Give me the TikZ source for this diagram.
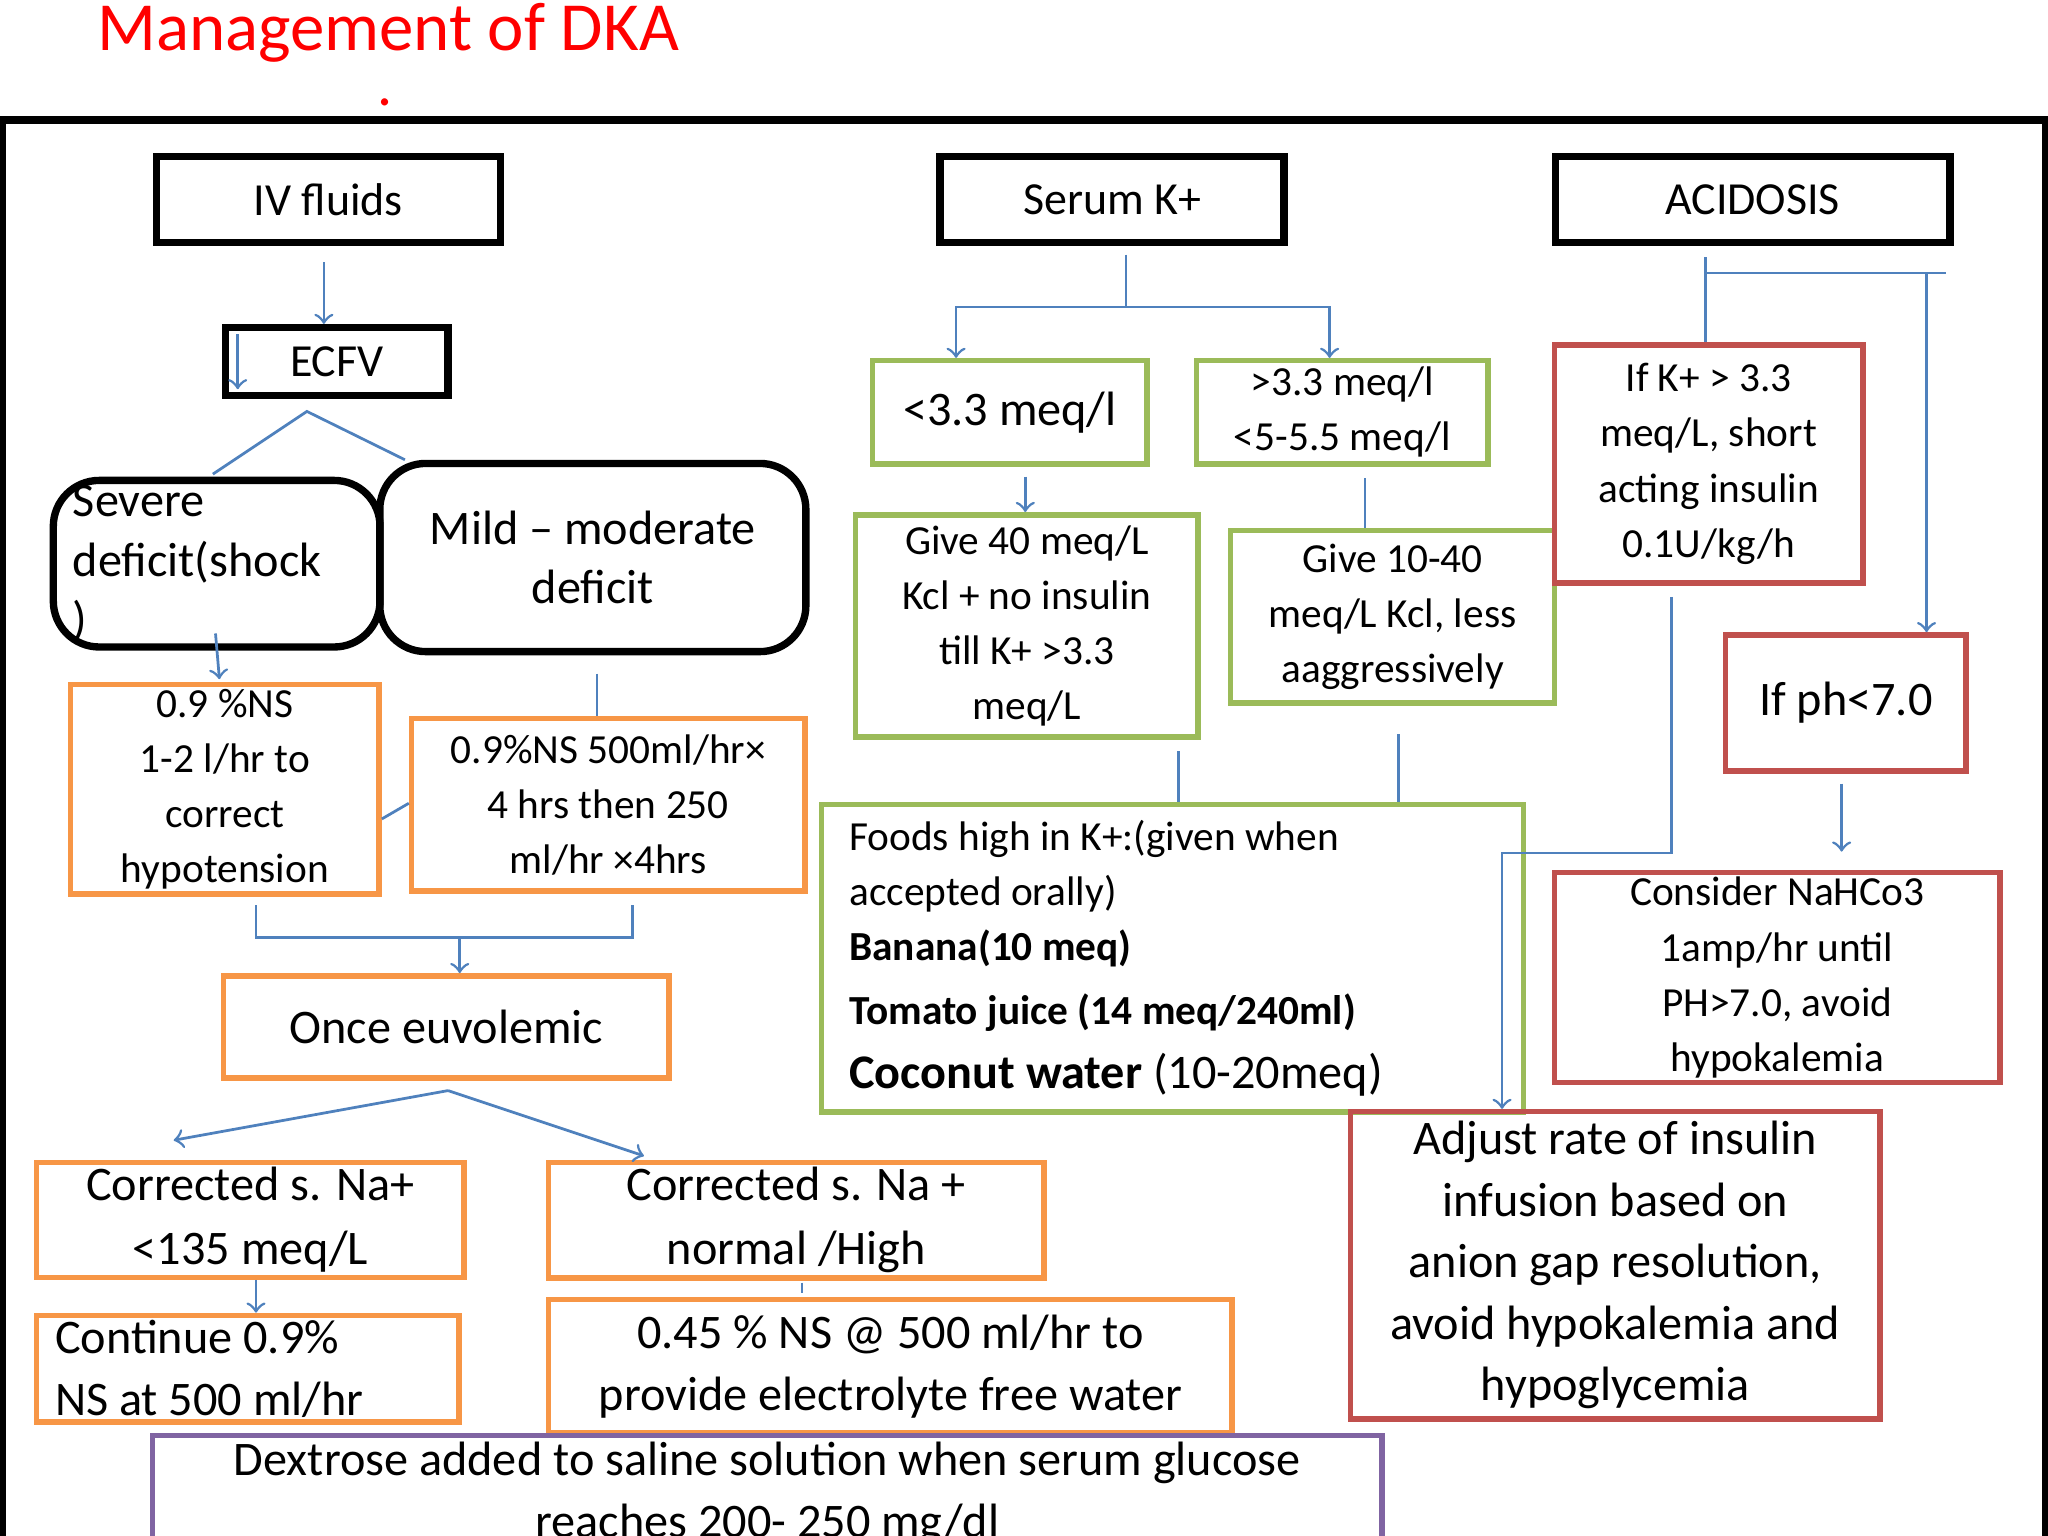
\documentclass[tikz,border=0pt]{standalone}
\usepackage{fontspec}
\setmainfont{Carlito}
\usetikzlibrary{positioning,calc}
\definecolor{dkaorange}{HTML}{F79646}
\definecolor{dkagreen}{HTML}{9BBB59}
\definecolor{dkared}{HTML}{C0504D}
\definecolor{dkapurple}{HTML}{8064A2}
\definecolor{dkablue}{HTML}{4F81BD}
\begin{document}
\begin{tikzpicture}[x=0.01cm,y=-0.01cm,
  box/.style={draw,line width=1.2pt,anchor=north west,inner sep=1pt,align=center,font=\fontsize{9}{12}\selectfont},
  hbox/.style={box,draw=black,line width=1.6pt,font=\fontsize{10}{12}\selectfont},
  rbox/.style={box,draw=black,line width=1.6pt,rounded corners=10pt,font=\fontsize{10.5}{13}\selectfont},
  obox/.style={box,draw=dkaorange},
  gbox/.style={box,draw=dkagreen},
  redbox/.style={box,draw=dkared},
  link/.style={draw=dkablue,line width=0.6pt},
  arr/.style={link,->}]
  \useasboundingbox (0,0) rectangle (1568,1176);
  %%%%% FRAME %%%%%
  \node[text=red,anchor=west,font=\fontsize{15}{17}\selectfont] (title) at (62,25) {Management of DKA};
  \node[text=red,font=\fontsize{13}{14}\selectfont] (dot) at (295,78) {.};
  \draw[line width=1.6pt] (2,1180) -- (2,92) -- (1566,92) -- (1566,1180);
  %%%%% IV FLUIDS %%%%%
  \node[hbox,minimum width=2.63cm,minimum height=0.66cm] (iv) at (117,117) {IV fluids};
  \node[hbox,minimum width=1.7cm,minimum height=0.52cm] (ecfv) at (170,248) {ECFV};
  \draw[arr] (iv.south -| 248,0) ++(0,12) -- (ecfv.north -| 248,0);
  \draw[arr] (182,256) -- (182,298);
  \node[rbox,align=flush left,text width=2.2cm,minimum width=2.5cm,minimum height=1.18cm] (severe) at (38,365) {Severe\\deficit(shock\\)};
  \node[rbox,minimum width=3.26cm,minimum height=1.44cm] (mild) at (288,352) {Mild – moderate\\deficit};
  \coordinate (split) at (235,315);
  \draw[link] (163,363) -- (split) -- (310,352);
  \node[obox,minimum width=2.36cm,minimum height=1.58cm] (nsfast) at (52,522) {0.9 \%NS\\1-2 l/hr to\\correct\\hypotension};
  \node[obox,minimum width=3.01cm,minimum height=1.32cm] (nsslow) at (313,548) {0.9\%NS 500ml/hr×\\4 hrs then 250\\ml/hr ×4hrs};
  \draw[arr] (165,485) -- (168,520);
  \draw[link] (mild.south -| 457,0) ++(0,14) -- (nsslow.north -| 457,0);
  \draw[link] (nsfast.east |- 0,627) -- (313,615);
  \node[obox,minimum width=3.41cm,minimum height=0.78cm,font=\fontsize{10.5}{12}\selectfont] (euvol) at (169,745) {Once euvolemic};
  \draw[link] (196,693) -- (196,718) -- (484,718) -- (484,693);
  \draw[arr] (352,718) -- (euvol.north -| 352,0);
  \node[obox,minimum width=3.27cm,minimum height=0.79cm,font=\fontsize{10.5}{14}\selectfont] (nalow) at (26,888) {Corrected s. Na+\\<135 meq/L};
  \node[obox,minimum width=3.79cm,minimum height=0.79cm,font=\fontsize{10.5}{14}\selectfont] (nahigh) at (418,888) {Corrected s. Na +\\normal /High};
  \coordinate (fork) at (343,835);
  \draw[arr] (fork) -- (133,873);
  \draw[arr] (fork) -- (493,885);
  \node[obox,align=flush left,text width=2.95cm,inner xsep=4pt,minimum width=3.14cm,minimum height=0.8cm,font=\fontsize{10.5}{13.5}\selectfont] (contns) at (26,1005) {Continue 0.9\%\\NS at 500 ml/hr};
  \node[obox,minimum width=5.23cm,minimum height=1.02cm,font=\fontsize{10.5}{13.5}\selectfont] (halfns) at (418,993) {0.45 \% NS @ 500 ml/hr to\\provide electrolyte free water};
  \draw[arr] (196,980) -- (contns.north -| 196,0);
  \draw[link] (614,982) -- (614,990);
  \node[box,draw=dkapurple,anchor=north,minimum width=9.41cm,minimum height=0.9cm,font=\fontsize{10.5}{13.5}\selectfont] (dextrose) at (587.5,1097) {Dextrose added to saline solution when serum glucose\\reaches 200- 250 mg/dl};
  %%%%% SERUM K %%%%%
  \node[hbox,minimum width=2.63cm,minimum height=0.66cm] (serumk) at (717,117) {Serum K+};
  \node[gbox,minimum width=2.1cm,minimum height=0.79cm,font=\fontsize{10.5}{12}\selectfont] (klow) at (666,274) {<3.3 meq/l};
  \node[gbox,minimum width=2.23cm,minimum height=0.79cm] (kmid) at (914,274) {>3.3 meq/l\\<5-5.5 meq/l};
  \draw[link] (862,195) -- (862,235);
  \draw[arr] (862,235) -| (klow.north -| 732,0);
  \draw[arr] (862,235) -| (kmid.north -| 1018,0);
  \node[gbox,minimum width=2.62cm,minimum height=1.7cm] (give40) at (653,392) {Give 40 meq/L\\Kcl + no insulin\\till K+ >3.3\\meq/L};
  \node[gbox,minimum width=2.48cm,minimum height=1.32cm] (give10) at (940,404) {Give 10-40\\meq/L Kcl, less\\aaggressively};
  \draw[arr] (785,365) -- (give40.north -| 785,0);
  \draw[link] (1045,366) -- (give10.north -| 1045,0);
  \node[gbox,align=flush left,text width=4.95cm,inner xsep=6pt,minimum width=5.1cm,minimum height=2.35cm] (foods) at (627,614) {Foods high in K+:(given when\\accepted orally)\\\textbf{Banana(10 meq)}\\[2pt]\textbf{Tomato juice (14 meq/240ml)}\\[2pt]{\fontsize{10.5}{12}\selectfont\textbf{Coconut water} (10-20meq)}};
  \draw[link] (902,575) -- (foods.north -| 902,0);
  \draw[link] (1071,562) -- (foods.north -| 1071,0);
  %%%%% ACIDOSIS %%%%%
  \node[hbox,minimum width=3.02cm,minimum height=0.66cm] (acid) at (1188,117) {ACIDOSIS};
  \node[redbox,minimum width=2.36cm,minimum height=1.82cm] (insulin) at (1188,262) {If K+ > 3.3\\meq/L, short\\acting insulin\\0.1U/kg/h};
  \node[redbox,minimum width=1.84cm,minimum height=1.04cm,font=\fontsize{10.5}{12}\selectfont] (ph) at (1319,484) {If ph<7.0};
  \node[redbox,minimum width=3.41cm,minimum height=1.57cm] (bicarb) at (1188,666) {Consider NaHCo3\\1amp/hr until\\PH>7.0, avoid\\hypokalemia};
  \node[redbox,minimum width=4.05cm,minimum height=2.35cm,font=\fontsize{10.5}{13.4}\selectfont] (adjust) at (1032,849) {Adjust rate of insulin\\infusion based on\\anion gap resolution,\\avoid hypokalemia and\\hypoglycemia};
  \draw[link] (1306,197) -- (insulin.north -| 1306,0);
  \draw[link] (1306,209) -- (1490,209);
  \draw[arr] (1475,209) -- (ph.north -| 1475,0);
  \draw[arr] (1410,600) -- (1410,652);
  \draw[arr] (1280,457) -- (1280,653) -- (1150,653) -- (adjust.north -| 1150,0);
\end{tikzpicture}
\end{document}
